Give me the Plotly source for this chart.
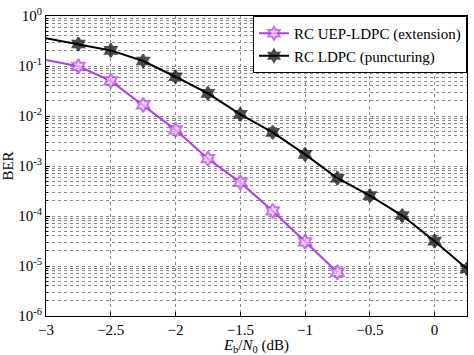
import plotly.graph_objects as go

ebn0 = [-3.0, -2.75, -2.5, -2.25, -2.0, -1.75, -1.5, -1.25, -1.0, -0.75, -0.5, -0.25, 0.0, 0.25]
ber_punct = [0.36, 0.275, 0.205, 0.126, 0.061, 0.0284, 0.0108, 0.0047, 0.00171, 5.7e-4, 2.55e-4, 1.02e-4, 3.14e-5, 8.8e-6]
ebn0_ext = [-3.0, -2.75, -2.5, -2.25, -2.0, -1.75, -1.5, -1.25, -1.0, -0.75]
ber_ext = [0.132, 0.0988, 0.0504, 0.0166, 0.00529, 0.0014, 4.7e-4, 1.26e-4, 3.04e-5, 7.5e-6]

x_ticks = [-3, -2.5, -2, -1.5, -1, -0.5, 0]
decades = list(range(-6, 1))

purple = "#b23ce6"
font = "Liberation Serif, Times New Roman, Times, serif"

fig = go.Figure()
fig.add_trace(go.Scatter(
    x=ebn0_ext, y=ber_ext, mode="lines+markers", name="RC UEP-LDPC (extension)",
    line=dict(color=purple, width=2),
    marker=dict(symbol="hexagram", size=[0] + [11] * (len(ebn0_ext) - 1),
                color="#ecc6fa", line=dict(color=purple, width=2)),
))
fig.add_trace(go.Scatter(
    x=ebn0, y=ber_punct, mode="lines+markers", name="RC LDPC (puncturing)",
    line=dict(color="black", width=2),
    marker=dict(symbol="hexagram", size=[0] + [10] * (len(ebn0) - 1),
                color="black", line=dict(color="black", width=2)),
))

major_y = [10.0 ** d for d in decades]
major_text = [f"10<sup>{d}</sup>" for d in decades]
minor_y = [m * 10.0 ** d for d in decades[:-1] for m in range(2, 10)]

grid = dict(gridcolor="#8a8a8a", griddash="dot", gridwidth=1)

fig.update_layout(
    width=474, height=355,
    margin=dict(l=39, r=6, t=10, b=31),
    paper_bgcolor="white", plot_bgcolor="white",
    font=dict(family=font, size=15, color="black"),
    showlegend=True,
    legend=dict(x=1, y=1, xanchor="right", yanchor="top",
                bgcolor="white", bordercolor="black", borderwidth=1,
                font=dict(family=font, size=15), itemwidth=30, tracegroupgap=0,
                traceorder="normal"),
    xaxis=dict(range=[-3, 0.25], tickmode="array", tickvals=x_ticks,
               tickfont=dict(family=font, size=15),
               showgrid=True, **grid,
               showline=True, linecolor="black", linewidth=1, mirror=True,
               ticks="inside", ticklen=4, tickcolor="black",
               zeroline=False,
               title=dict(text="<i>E</i><sub>b</sub>/<i>N</i><sub>0</sub> (dB)", standoff=0,
                          font=dict(family=font, size=15))),
    yaxis=dict(type="log", range=[-6, 0], tickmode="array",
               tickvals=major_y, ticktext=major_text,
               tickfont=dict(family=font, size=15),
               ticklabeloverflow="allow",
               showgrid=True, **grid,
               minor=dict(tickmode="array", tickvals=minor_y, ticks="inside",
                          ticklen=2, tickcolor="black", showgrid=True, **grid),
               showline=True, linecolor="black", linewidth=1, mirror=True,
               ticks="inside", ticklen=4, tickcolor="black",
               zeroline=False,
               title=dict(text="BER", standoff=2, font=dict(family=font, size=15))),
)

fig.write_html("out.html")
